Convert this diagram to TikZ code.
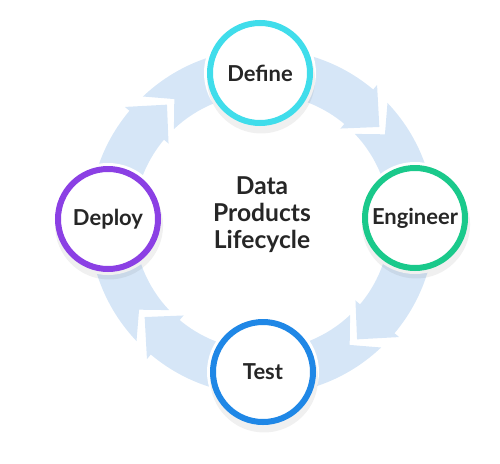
\documentclass[tikz,border=0pt]{standalone}
\usepackage{fontspec}
\setmainfont{Lato}
\usetikzlibrary{positioning,shadows}

\definecolor{bandblue}{HTML}{D6E6F7}
\definecolor{definecol}{HTML}{40DDEB}
\definecolor{engcol}{HTML}{1AC98B}
\definecolor{testcol}{HTML}{1F87E6}
\definecolor{deploycol}{HTML}{8B40E4}
\definecolor{inkgray}{HTML}{262626}

\begin{document}
\begin{tikzpicture}[
  stage/.style={circle, minimum size=2cm, inner sep=0pt, fill=white, line width=0.12cm,
    text=inkgray, font=\fontsize{12.5}{15}\selectfont\bfseries,
    preaction={draw=white, line width=0.24cm},
    drop shadow={shadow scale=1.08, shadow xshift=0.02cm, shadow yshift=-0.12cm, opacity=0.06, fill=black}},
  band/.style={fill=bandblue, draw=none}]
\useasboundingbox (-5.24,-4.82) rectangle (4.76,4.44);
% ring of four arrows, running clockwise
\foreach \r in {0,-90,-180,-270}
  \fill[band] (133.5+\r:3.46) arc[start angle=133.5+\r, end angle=50+\r, radius=3.46]
    -- (50+\r:3.58) -- (39+\r:3.02) -- (50+\r:2.44) -- (50+\r:2.56)
    arc[start angle=50+\r, end angle=133.5+\r, radius=2.56] -- (125.5+\r:3.02) -- cycle;
\node[stage, draw=definecol] (define) at (-0.04,2.98) {Define};
\node[stage, draw=engcol] (engineer) at (3.06,0.08) {Engineer};
\node[stage, draw=testcol] (test) at (0.02,-3.0) {Test};
\node[stage, draw=deploycol] (deploy) at (-3.08,0.06) {Deploy};
\node[align=center, text=inkgray, font=\fontsize{14}{15.3}\selectfont\bfseries] (title) at (0,0.14) {Data\\Products\\Lifecycle};
\end{tikzpicture}
\end{document}
